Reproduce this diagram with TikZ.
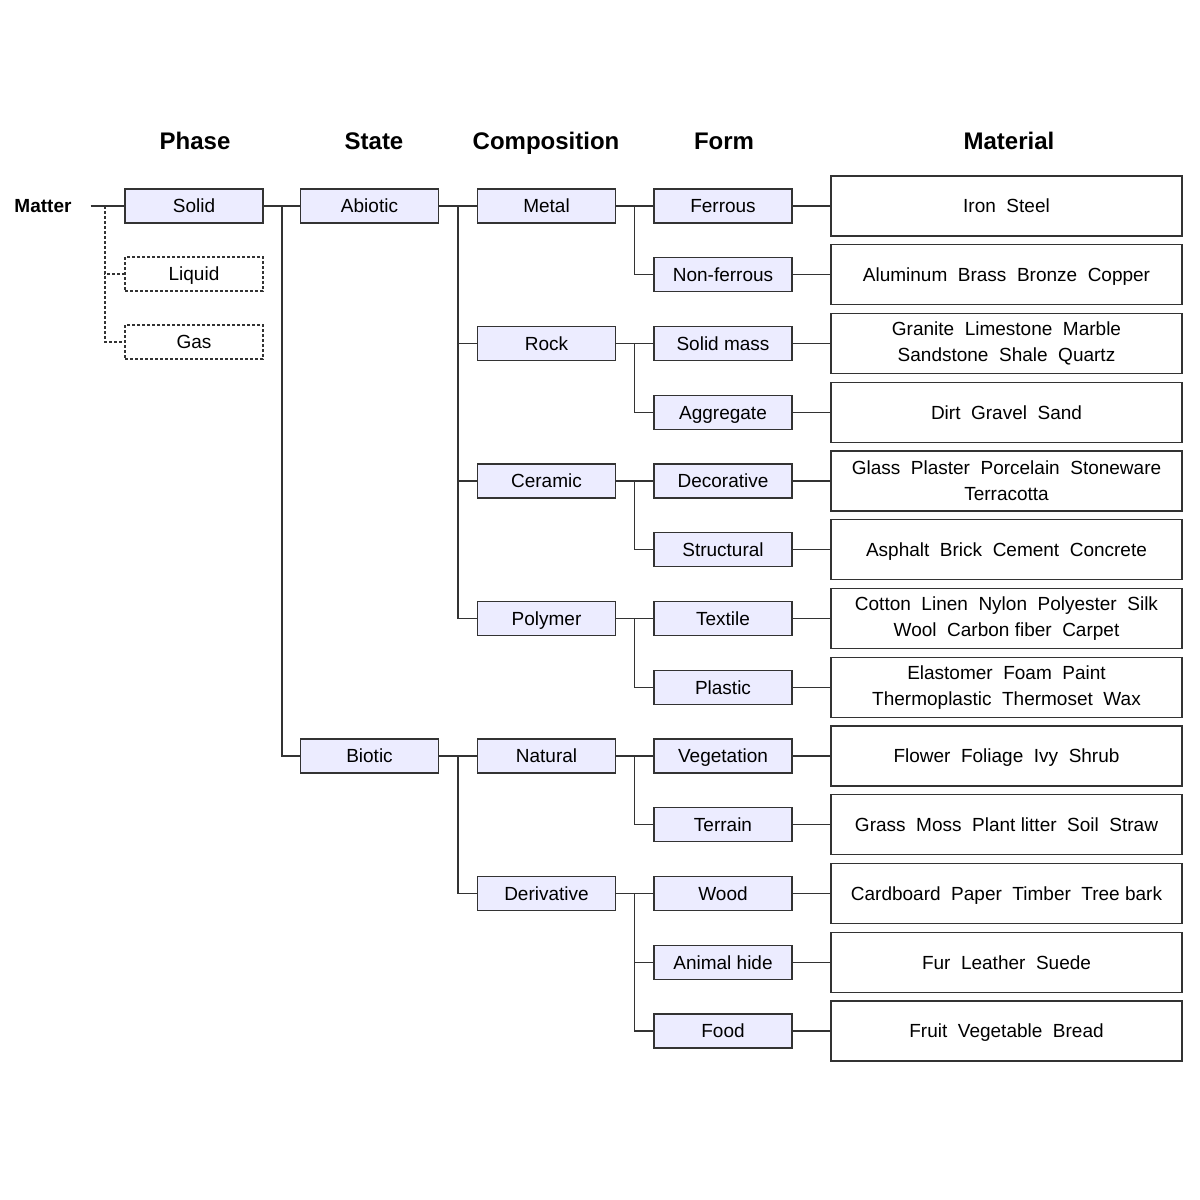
\documentclass[tikz,border=0pt]{standalone}
\usepackage{fontspec}
\setmainfont{Liberation Sans}
\usetikzlibrary{calc}
\definecolor{boxfill}{HTML}{ECECFF}
\definecolor{boxline}{HTML}{333333}
\newcommand{\gap}{\ \ }

\begin{document}
\begin{tikzpicture}[x=0.5pt,y=-0.5pt,
  cat/.style={draw=boxline,fill=boxfill,line width=0.6pt,minimum width=69pt,
    minimum height=17pt,inner sep=0pt,text height=6.9pt,text depth=0pt,
    font=\fontsize{9.5}{11}\selectfont},
  ghost/.style={cat,fill=white,dashed,dash pattern=on 1.5pt off 1pt},
  matbox/.style={draw=boxline,fill=white,line width=0.6pt,minimum width=175.5pt,
    minimum height=30pt,inner sep=0pt,align=center,font=\fontsize{9.5}{13}\selectfont},
  mat/.style={matbox,text height=6.9pt,text depth=0pt},
  head/.style={font=\bfseries\fontsize{12}{14}\selectfont,text height=8.7pt,text depth=0pt},
  link/.style={draw=boxline,line width=0.6pt}]
  \useasboundingbox (0,0) rectangle (1200,1200);

  % Column headers
  \node[head] (hphase) at (195,141) {Phase};
  \node[head] (hstate) at (374,141) {State};
  \node[head] (hcomp)  at (546,141) {Composition};
  \node[head] (hform)  at (724,141) {Form};
  \node[head] (hmat)   at (1009,141) {Material};

  % Root and phases
  \node[font=\bfseries\fontsize{9.5}{11}\selectfont,text height=6.9pt,text depth=0pt]
    (matter) at (43,206) {Matter};
  \node[cat]   (solid)  at (194,206) {Solid};
  \node[ghost] (liquid) at (194,274) {Liquid};
  \node[ghost] (gas)    at (194,342) {Gas};

  % States
  \node[cat] (abiotic) at (369.5,206) {Abiotic};
  \node[cat] (biotic)  at (369.5,756) {Biotic};

  % Compositions
  \node[cat] (metal)      at (546.5,206)   {Metal};
  \node[cat] (rock)       at (546.5,343.5) {Rock};
  \node[cat] (ceramic)    at (546.5,481)   {Ceramic};
  \node[cat] (polymer)    at (546.5,618.5) {Polymer};
  \node[cat] (natural)    at (546.5,756)   {Natural};
  \node[cat] (derivative) at (546.5,893.5) {Derivative};

  % Forms
  \node[cat] (ferrous)    at (723,206)    {Ferrous};
  \node[cat] (nonferrous) at (723,274.75) {Non-ferrous};
  \node[cat] (solidmass)  at (723,343.5)  {Solid mass};
  \node[cat] (aggregate)  at (723,412.25) {Aggregate};
  \node[cat] (decorative) at (723,481)    {Decorative};
  \node[cat] (structural) at (723,549.75) {Structural};
  \node[cat] (textile)    at (723,618.5)  {Textile};
  \node[cat] (plastic)    at (723,687.25) {Plastic};
  \node[cat] (vegetation) at (723,756)    {Vegetation};
  \node[cat] (terrain)    at (723,824.75) {Terrain};
  \node[cat] (wood)       at (723,893.5)  {Wood};
  \node[cat] (hide)       at (723,962.25) {Animal hide};
  \node[cat] (food)       at (723,1031)   {Food};

  % Materials
  \node[mat]    (mferrous)    at (1006.5,206)    {Iron\gap Steel};
  \node[mat]    (mnonferrous) at (1006.5,274.75) {Aluminum\gap Brass\gap Bronze\gap Copper};
  \node[matbox] (msolidmass)  at (1006.5,343.5)  {Granite\gap Limestone\gap Marble\\Sandstone\gap Shale\gap Quartz};
  \node[mat]    (maggregate)  at (1006.5,412.25) {Dirt\gap Gravel\gap Sand};
  \node[matbox] (mdecorative) at (1006.5,481)    {Glass\gap Plaster\gap Porcelain\gap Stoneware\\Terracotta};
  \node[mat]    (mstructural) at (1006.5,549.75) {Asphalt\gap Brick\gap Cement\gap Concrete};
  \node[matbox] (mtextile)    at (1006.5,618.5)  {Cotton\gap Linen\gap Nylon\gap Polyester\gap Silk\\Wool\gap Carbon fiber\gap Carpet};
  \node[matbox] (mplastic)    at (1006.5,687.25) {Elastomer\gap Foam\gap Paint\\Thermoplastic\gap Thermoset\gap Wax};
  \node[mat]    (mvegetation) at (1006.5,756)    {Flower\gap Foliage\gap Ivy\gap Shrub};
  \node[mat]    (mterrain)    at (1006.5,824.75) {Grass\gap Moss\gap Plant litter\gap Soil\gap Straw};
  \node[mat]    (mwood)       at (1006.5,893.5)  {Cardboard\gap Paper\gap Timber\gap Tree bark};
  \node[mat]    (mhide)       at (1006.5,962.25) {Fur\gap Leather\gap Suede};
  \node[mat]    (mfood)       at (1006.5,1031)   {Fruit\gap Vegetable\gap Bread};

  % Junction points of the tree
  \coordinate (jphase) at (105,206);
  \coordinate (jstate) at (282,206);
  \coordinate (jabio)  at (458,206);
  \coordinate (jbio)   at (458,756);

  % Phase links
  \draw[link] ([xshift=6pt]matter.east) -- (solid.west);
  \draw[link,dashed,dash pattern=on 1.5pt off 1pt] (jphase) |- (liquid.west);
  \draw[link,dashed,dash pattern=on 1.5pt off 1pt] (jphase) |- (gas.west);

  % State links
  \draw[link] (solid.east) -- (abiotic.west);
  \draw[link] (jstate) |- (biotic.west);

  % Composition links
  \draw[link] (abiotic.east) -- (metal.west);
  \foreach \c in {rock,ceramic,polymer}
    \draw[link] (jabio) |- (\c.west);
  \draw[link] (biotic.east) -- (natural.west);
  \draw[link] (jbio) |- (derivative.west);

  % Form links
  \foreach \c/\a/\b in {metal/ferrous/nonferrous,rock/solidmass/aggregate,
      ceramic/decorative/structural,polymer/textile/plastic,natural/vegetation/terrain} {
    \draw[link] (\c.east) -- (\a.west);
    \draw[link] ($(\c.east)!0.5!(\a.west)$) |- (\b.west);
  }
  \draw[link] (derivative.east) -- (wood.west);
  \draw[link] ($(derivative.east)!0.5!(wood.west)$) |- (hide.west);
  \draw[link] ($(derivative.east)!0.5!(wood.west)$) |- (food.west);

  % Material links
  \foreach \f in {ferrous,nonferrous,solidmass,aggregate,decorative,structural,
      textile,plastic,vegetation,terrain,wood,hide,food}
    \draw[link] (\f.east) -- (m\f.west);

\end{tikzpicture}
\end{document}
